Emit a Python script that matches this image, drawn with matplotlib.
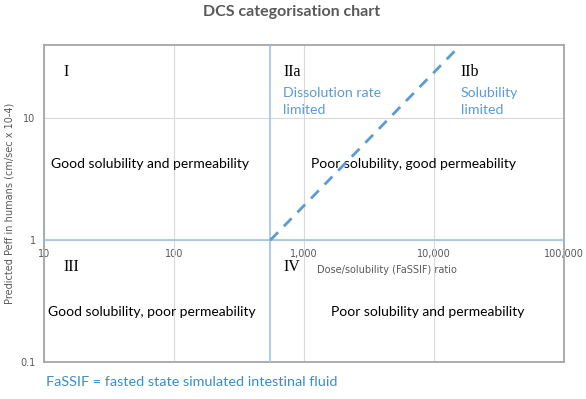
import numpy as np
import matplotlib
matplotlib.use("Agg")
import matplotlib.pyplot as plt
from matplotlib.ticker import FixedLocator, FuncFormatter, NullLocator

# axis ranges and ticks
x_lim = [10, 100000]
y_lim = [0.1, 40]
x_ticks = [10, 100, 1000, 10000, 100000]
y_ticks = [0.1, 1, 10]

# boundary lines
ratio_cut = 550          # dose/solubility boundary
peff_cut = 1             # permeability boundary
dash_x = [550, 16000]    # dissolution-rate vs solubility limited
dash_y = [1, 40]

# region labels (x, y in data units)
numerals = ["I", "IIa", "IIb", "III", "IV"]
numeral_x = [14, 690, 16000, 14, 690]
numeral_y = [24, 24, 24, 0.6, 0.6]

blue_notes = ["Dissolution rate\nlimited", "Solubility\nlimited"]
blue_x = [690, 16000]
blue_y = [13.8, 13.8]

region_text = ["Good solubility and permeability",
               "Poor solubility, good permeability",
               "Good solubility, poor permeability",
               "Poor solubility and permeability"]
region_x = [65, 7000, 68, 9000]
region_y = [4.2, 4.2, 0.255, 0.255]

grey = "#595959"
light_blue = "#9DC3E6"
blue = "#5B9BD5"

fig = plt.figure(figsize=(5.86, 3.99), dpi=100)
ax = fig.add_axes([0.0751, 0.0927, 0.8874, 0.7943])
ax.set_xscale("log")
ax.set_yscale("log")
ax.set_xlim(x_lim)
ax.set_ylim(y_lim)

for s in ax.spines.values():
    s.set_color("#A6A6A6")
    s.set_linewidth(1.3)

ax.xaxis.set_major_locator(FixedLocator(x_ticks))
ax.xaxis.set_minor_locator(NullLocator())
ax.yaxis.set_major_locator(FixedLocator(y_ticks))
ax.yaxis.set_minor_locator(NullLocator())
ax.tick_params(axis="x", length=0, labelbottom=False)
ax.tick_params(axis="y", length=0, labelsize=7, labelcolor=grey, pad=6)
ax.yaxis.set_major_formatter(FuncFormatter(lambda v, p: f"{v:g}"))
ax.grid(True, color="#D9D9D9", linewidth=0.8)

ax.axhline(peff_cut, color=light_blue, linewidth=1.2, zorder=3)
ax.axvline(ratio_cut, color=light_blue, linewidth=1.2, zorder=3)
ax.plot(dash_x, dash_y, color=blue, linewidth=2, linestyle=(0, (4, 3)), zorder=4)

# x tick labels sit along the y = 1 line
frac = (np.log10(peff_cut) - np.log10(y_lim[0])) / (np.log10(y_lim[1]) - np.log10(y_lim[0]))
sec = ax.secondary_xaxis(frac)
sec.spines["bottom"].set_visible(False)
sec.xaxis.set_major_locator(FixedLocator(x_ticks))
sec.xaxis.set_minor_locator(NullLocator())
sec.xaxis.set_major_formatter(FuncFormatter(lambda v, p: f"{v:,.0f}"))
sec.tick_params(length=0, labelsize=7, labelcolor=grey, pad=6)
sec.set_xlabel("Dose/solubility (FaSSIF) ratio", fontsize=7, color=grey,
               x=0.66, labelpad=5)

ax.set_ylabel("Predicted Peff in humans (cm/sec x 10-4)", fontsize=7,
              color=grey, labelpad=4)

for t, x, y in zip(numerals, numeral_x, numeral_y):
    ax.text(x, y, t, family="Liberation Serif", fontsize=11.5, color="black",
            ha="left", va="center")
for t, x, y in zip(blue_notes, blue_x, blue_y):
    ax.text(x, y, t, family="Lato", fontsize=10.2, color=blue,
            ha="left", va="center", linespacing=1.5)
for t, x, y in zip(region_text, region_x, region_y):
    ax.text(x, y, t, family="Lato", fontsize=10, color="black",
            ha="center", va="center")

fig.text(0.498, 0.97, "DCS categorisation chart", family="Lato",
         fontweight="bold", fontsize=11.5, color=grey, ha="center", va="center")
fig.text(0.078, 0.043, "FaSSIF = fasted state simulated intestinal fluid",
         family="Lato", fontsize=10.4, color="#3A8DC8", ha="left", va="center")

fig.savefig("out.png", dpi=100)
